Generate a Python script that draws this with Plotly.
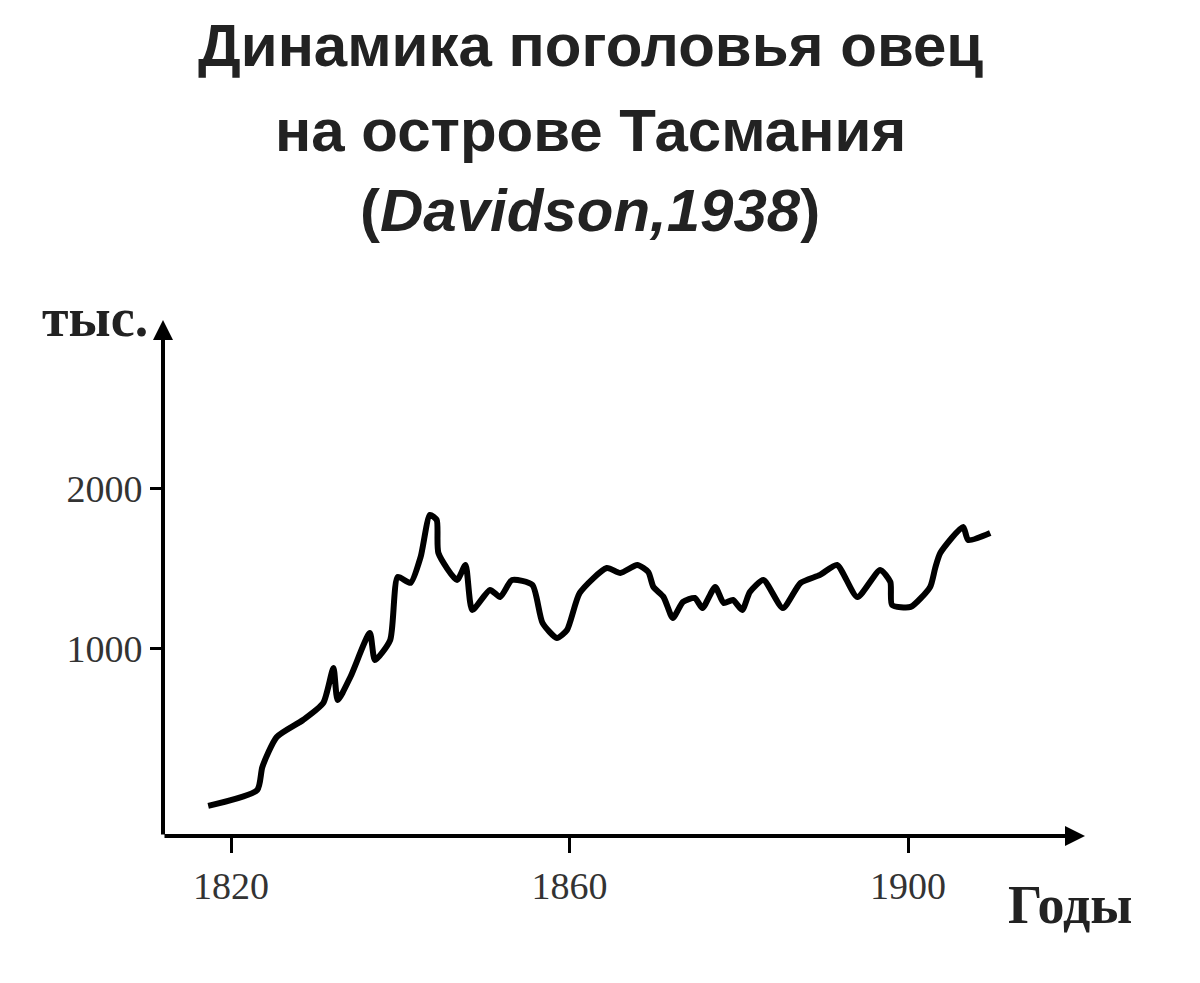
import plotly.graph_objects as go

years = [1817.3, 1823.1, 1823.7, 1825.4, 1828.5, 1830.9, 1832.1, 1832.6, 1834.1, 1836.4, 1837.0,
         1838.8, 1839.7, 1841.2, 1842.4, 1843.5, 1844.3, 1844.5, 1846.7, 1847.7, 1848.5, 1850.6,
         1851.8, 1853.2, 1855.6, 1856.8, 1858.5, 1859.7, 1861.2, 1864.4, 1866.0, 1868.0, 1869.3,
         1869.9, 1871.1, 1872.2, 1873.4, 1874.8, 1875.7, 1877.2, 1878.2, 1879.3, 1880.4, 1881.3,
         1882.9, 1885.2, 1887.3, 1889.6, 1891.6, 1894.0, 1896.7, 1897.9, 1898.1, 1900.3, 1902.6,
         1903.2, 1903.8, 1906.5, 1907.1, 1909.7]
sheep = [20, 119, 263, 450, 556, 663, 881, 681, 825, 1100, 931,
         1056, 1450, 1413, 1575, 1838, 1806, 1600, 1431, 1525, 1244, 1369,
         1325, 1431, 1400, 1163, 1069, 1119, 1350, 1506, 1475, 1525, 1481,
         1388, 1325, 1194, 1294, 1319, 1256, 1388, 1288, 1306, 1244, 1356,
         1431, 1256, 1413, 1463, 1525, 1325, 1494, 1419, 1275, 1263, 1388,
         1506, 1600, 1763, 1681, 1725]
xticks = [1820, 1860, 1900]
yticks = [1000, 2000]
title_lines = ["<b>Динамика поголовья овец</b>", "<b>на острове Тасмания</b>",
               "<b>(<i>Davidson,1938</i>)</b>"]

serif = "Liberation Serif, Times New Roman, serif"
sans = "Liberation Sans, Arial, sans-serif"

fig = go.Figure(go.Scatter(x=years, y=sheep, mode="lines",
                           line=dict(color="black", width=6, shape="spline", smoothing=0.6),
                           hoverinfo="skip"))
anns = [
    dict(xref="paper", yref="paper", x=1, y=0, ax=-922, ay=0, text="", showarrow=True,
         arrowhead=2, arrowsize=1, arrowwidth=4, arrowcolor="black"),
    dict(xref="paper", yref="paper", x=0, y=1, ax=0, ay=516, text="", showarrow=True,
         arrowhead=2, arrowsize=1, arrowwidth=4, arrowcolor="black"),
    dict(xref="paper", yref="paper", x=0, y=1.0, xshift=-68, yshift=2, text="<b>тыс.</b>",
         showarrow=False, font=dict(family=serif, size=54, color="#222"),
         xanchor="center", yanchor="middle"),
    dict(xref="paper", yref="paper", x=1.0, y=0, xshift=-15, yshift=-69, text="<b>Годы</b>",
         showarrow=False, font=dict(family=serif, size=54, color="#222"),
         xanchor="center", yanchor="middle"),
]
for line, shift in zip(title_lines, [275, 190, 110]):
    anns.append(dict(xref="paper", yref="paper", x=0, xshift=590 - 163, y=1.0, yshift=shift,
                     showarrow=False, yanchor="middle", xanchor="center", text=line,
                     font=dict(family=sans, size=60, color="#222")))

fig.update_layout(
    width=1200, height=983, plot_bgcolor="white", paper_bgcolor="white", showlegend=False,
    margin=dict(l=155, r=123, t=312, b=155),
    xaxis=dict(range=[1811.96, 1920.9], tickvals=xticks, ticks="outside", ticklen=16, tickwidth=3,
               tickcolor="black", showgrid=False, zeroline=False, showline=False,
               tickfont=dict(family=serif, size=38, color="#333")),
    yaxis=dict(range=[-168.75, 3056], tickvals=yticks, ticks="outside", ticklen=12, tickwidth=3,
               tickcolor="black", showgrid=False, zeroline=False, showline=False,
               tickfont=dict(family=serif, size=38, color="#333")),
    annotations=anns,
)
fig.write_html("out.html")
